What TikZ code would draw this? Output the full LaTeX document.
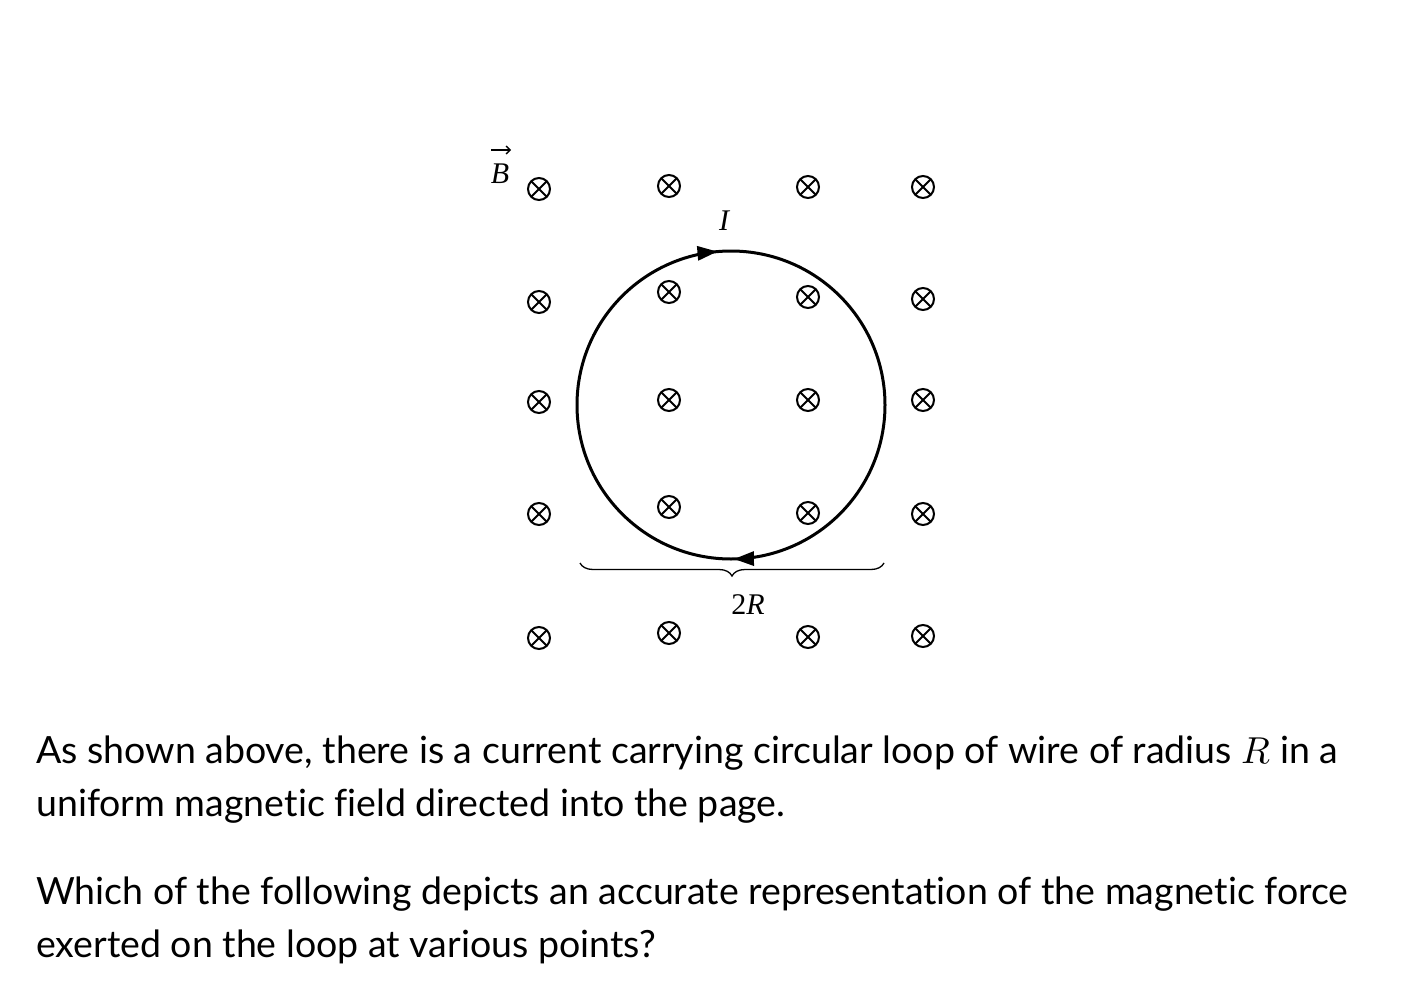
\documentclass[tikz,border=0pt]{standalone}
\usepackage{fontspec}
\usepackage{unicode-math}
\setmainfont{Lato}[Ligatures=NoCommon]
\setmathfont{Latin Modern Math}
\newfontfamily\timesf{Liberation Serif}
\usetikzlibrary{decorations.pathreplacing,decorations.markings,arrows.meta}
\begin{document}
\begin{tikzpicture}[x=1pt,y=-1pt,
  fieldin/.style={draw,line width=2pt,circle,minimum size=22pt,inner sep=0pt,
    path picture={\draw[line width=1.8pt] (path picture bounding box.south west)++(3.4pt,3.4pt) -- ([xshift=-3.4pt,yshift=-3.4pt]path picture bounding box.north east);
    \draw[line width=1.8pt] ([xshift=3.4pt,yshift=-3.4pt]path picture bounding box.north west) -- ([xshift=-3.4pt,yshift=3.4pt]path picture bounding box.south east);}},
  serif/.style={font=\fontsize{30}{34}\selectfont\timesf\itshape},
  body/.style={font=\fontsize{37.5}{42}\selectfont,anchor=base west,inner sep=0pt}]
\useasboundingbox (0,0) rectangle (1428,998);
\foreach \x/\y [count=\i] in {539/189,669/186,808/187,923/187,
  539/302,669/292,808/297,923/299,
  539/402,669/400,808/400,923/400,
  539/514,669/507,808/513,923/514,
  539/638,669/633,808/637,923/636}
  \node[fieldin] (f\i) at (\x,\y) {};
\node[serif] (bvec) at (500,174) {B};
\coordinate (ba) at (491,150);
\coordinate (bb) at (511,150);
\draw[line width=1.4pt,-{Straight Barb[length=4pt]}] (ba) -- (bb);
\coordinate (c) at (731,405);
\draw[line width=3pt,
  decoration={markings,
    mark=at position 0.253 with {\arrowreversed{Triangle[length=20pt,width=14pt]}},
    mark=at position 0.764 with {\arrowreversed{Triangle[length=20pt,width=14pt]}}},
  postaction={decorate}] (c) ++(180:154) arc[start angle=180,end angle=-180,radius=154];
\node[serif] (lblI) at (724,221) {I};
\coordinate (bl) at (580,563);
\coordinate (br) at (884,563);
\draw[line width=1.3pt,decorate,decoration={brace,mirror,amplitude=13pt}] (bl) -- (br);
\node[serif] (lbl2R) at (748,605) {\upshape 2\itshape R};
\node[body] (t1) at (36,763) {As shown above, there is a current carrying circular loop of wire of radius $R$ in a};
\node[body] (t2) at (36,816) {uniform magnetic field directed into the page.};
\node[body] (t3) at (36,904) {Which of the following depicts an accurate representation of the magnetic force};
\node[body] (t4) at (36,957) {exerted on the loop at various points?};
\end{tikzpicture}
\end{document}
